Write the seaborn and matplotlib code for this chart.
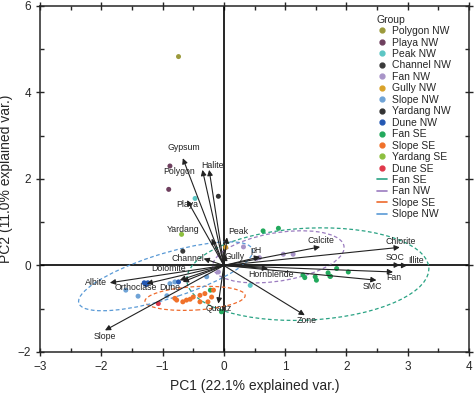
import numpy as np
import pandas as pd
import matplotlib
matplotlib.use("Agg")
import matplotlib.pyplot as plt
from matplotlib.patches import Ellipse
from matplotlib.lines import Line2D
from matplotlib.ticker import MultipleLocator
import seaborn as sns

# --- sample scores (PC1, PC2) per group ---
groups = ["Polygon NW", "Playa NW", "Peak NW", "Channel NW", "Fan NW", "Gully NW",
          "Slope NW", "Yardang NW", "Dune NW", "Fan SE", "Slope SE", "Yardang SE", "Dune SE"]
group_colors = ["#9c9a3c", "#6e3f5e", "#5cc6c4", "#3a3a3a", "#a894c8", "#d9a229",
                "#6fa3d6", "#333333", "#2458b3", "#22a95c", "#f0712a", "#8dbf3f", "#e0384a"]

pc1 = {
    "Polygon NW": [-0.74],
    "Playa NW": [-0.88, -0.90],
    "Peak NW": [-0.47, 0.43],
    "Channel NW": [-0.67],
    "Fan NW": [0.32, 0.53, 0.58, 0.97, 1.13, -0.09],
    "Gully NW": [0.03],
    "Slope NW": [-1.60, -1.40, -0.93, -0.28, -0.88, -0.80],
    "Yardang NW": [-0.09],
    "Dune NW": [-1.30, -1.27, -1.24, -0.74],
    "Fan SE": [0.64, 0.89, 1.29, 1.32, 1.49, 1.51, 1.70, 1.73, 1.74, 1.84, 2.03, -0.22, -0.04],
    "Slope SE": [-0.80, -0.77, -0.61, -0.50, -0.39, -0.31, -0.20, -0.17, -0.67, -0.26, -0.39, -0.55],
    "Yardang SE": [-0.69],
    "Dune SE": [-1.07],
}
pc2 = {
    "Polygon NW": [4.83],
    "Playa NW": [2.30, 1.76],
    "Peak NW": [1.55, -0.46],
    "Channel NW": [0.33],
    "Fan NW": [0.43, 0.16, 0.18, 0.26, 0.26, -0.15],
    "Gully NW": [0.42],
    "Slope NW": [-0.57, -0.71, -0.70, -0.26, -0.42, -0.38],
    "Yardang NW": [1.60],
    "Dune NW": [-0.40, -0.44, -0.40, -0.38],
    "Fan SE": [0.80, 0.86, -0.22, -0.28, -0.26, -0.34, -0.17, -0.25, -0.25, -0.07, -0.15, -0.57, -1.07],
    "Slope SE": [-0.76, -0.80, -0.80, -0.73, -0.69, -0.65, -0.73, -0.57, -0.84, -0.84, -0.84, -0.78],
    "Yardang SE": [0.72],
    "Dune SE": [-0.88],
}

# --- variable loadings ---
variables = ["Gypsum", "Polygon", "Halite", "Playa", "Yardang", "Peak", "Gully", "Channel",
             "Dolomite", "Albite", "Orthoclase", "Dune", "Slope", "Quartz", "Zone",
             "Hornblende", "pH", "Calcite", "Chlorite", "SOC", "Illite", "Fan", "SMC"]
load_x = [-0.67, -0.35, -0.24, -0.60, -0.20, 0.05, 0.03, -0.33, -0.72, -1.86, -1.26, -0.67,
          -1.94, -0.09, 1.32, 0.72, 0.59, 1.57, 2.87, 2.87, 2.99, 2.76, 2.49]
load_y = [2.48, 2.21, 2.21, 1.51, 0.62, 0.65, 0.25, 0.16, -0.34, -0.40, -0.42, -0.38,
          -1.50, -0.88, -1.15, -0.07, 0.20, 0.43, 0.42, 0.01, 0.00, -0.15, -0.34]
label_x = [-0.66, -0.73, -0.18, -0.60, -0.67, 0.24, 0.18, -0.59, -0.91, -2.08, -1.44, -0.88,
           -1.94, -0.09, 1.35, 0.77, 0.52, 1.59, 2.89, 2.79, 3.13, 2.77, 2.42]
label_y = [2.72, 2.17, 2.32, 1.42, 0.83, 0.79, 0.20, 0.16, -0.07, -0.39, -0.51, -0.51,
           -1.64, -1.00, -1.28, -0.21, 0.35, 0.57, 0.55, 0.19, 0.12, -0.28, -0.49]

# --- confidence ellipses: name, colour, centre, width, height, angle ---
ell_names = ["Fan SE", "Fan NW", "Slope SE", "Slope NW"]
ell_colors = ["#2aa384", "#9b7cc0", "#ee6a2c", "#5a9ad6"]
ell_cx = [1.37, 0.89, -0.47, -0.95]
ell_cy = [-0.20, 0.20, -0.76, -0.25]
ell_w = [3.96, 2.20, 1.64, 3.10]
ell_h = [2.12, 1.10, 0.54, 1.00]
ell_ang = [5, 15, 5, 25]

rows = []
for g in groups:
    for x, y in zip(pc1[g], pc2[g]):
        rows.append({"PC1": x, "PC2": y, "Group": g})
df = pd.DataFrame(rows)

sns.set_style("ticks")
plt.rcParams["font.family"] = ["Liberation Sans", "DejaVu Sans"]

fig = plt.figure(figsize=(4.74, 3.98), dpi=100)
ax = fig.add_axes([0.0844, 0.1156, 0.9051, 0.8694])

palette = dict(zip(groups, group_colors))
sns.scatterplot(data=df, x="PC1", y="PC2", hue="Group", hue_order=groups, palette=palette,
                s=13, linewidth=0, ax=ax, legend=False, zorder=3)

ax.axhline(0, color="black", lw=1.2, zorder=2)
ax.axvline(0, color="black", lw=1.2, zorder=2)

for c, cx, cy, w, h, a in zip(ell_colors, ell_cx, ell_cy, ell_w, ell_h, ell_ang):
    ax.add_patch(Ellipse((cx, cy), w, h, angle=a, fill=False, ec=c, lw=0.9,
                         ls=(0, (3, 2)), zorder=2))

for v, lx, ly, tx, ty in zip(variables, load_x, load_y, label_x, label_y):
    ax.annotate("", xy=(lx, ly), xytext=(0, 0),
                arrowprops=dict(arrowstyle="-|>", color="#222222", lw=0.8,
                                mutation_scale=8, shrinkA=0, shrinkB=0), zorder=4)
    ax.text(tx, ty, v, fontsize=6.3, ha="center", va="center", color="#222222", zorder=5)

ax.set_xlim(-3, 4)
ax.set_ylim(-2, 6)
ax.xaxis.set_major_locator(MultipleLocator(1))
ax.xaxis.set_minor_locator(MultipleLocator(0.5))
ax.yaxis.set_major_locator(MultipleLocator(2))
ax.yaxis.set_minor_locator(MultipleLocator(1))
ax.tick_params(which="major", direction="inout", length=6, width=1, labelsize=8.5,
               top=True, right=True, labeltop=False, labelright=False)
ax.tick_params(which="minor", direction="in", length=3, width=1, top=True, right=True)
for s in ax.spines.values():
    s.set_linewidth(1.1)

ax.set_xlabel("PC1 (22.1% explained var.)", fontsize=10, labelpad=4)
ax.set_ylabel("PC2 (11.0% explained var.)", fontsize=10, labelpad=3)

handles = [Line2D([], [], marker="o", ls="", color=c, markersize=3.5) for c in group_colors]
labels = list(groups)
for n, c in zip(ell_names, ell_colors):
    handles.append(Line2D([], [], color=c, lw=1.2))
    labels.append(n)
leg = ax.legend(handles, labels, title="Group", loc="upper left",
                bbox_to_anchor=(0.785, 0.975), frameon=False, fontsize=7.5,
                title_fontsize=7.5, labelspacing=0.14, handlelength=1.0,
                handletextpad=0.5, borderaxespad=0, borderpad=0)
leg._legend_box.align = "left"

fig.savefig("out.png", dpi=100)
